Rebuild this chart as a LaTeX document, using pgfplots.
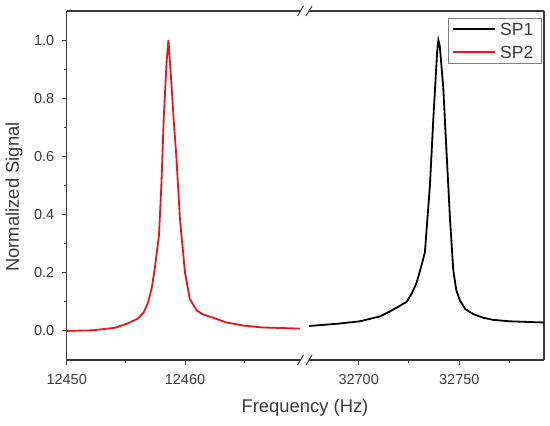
\documentclass[border=0pt]{standalone}
\usepackage{fontspec}
\setmainfont{Liberation Sans}
\usepackage{pgfplots}
\pgfplotsset{compat=1.18}
\definecolor{axgray}{HTML}{3A3A3A}
\definecolor{sptwo}{HTML}{E8141C}
\pgfplotsset{
  brk/.style={
    scale only axis,
    height=349pt,
    ymin=-0.1, ymax=1.1,
    tick align=outside,
    major tick length=5pt,
    minor tick length=3pt,
    every tick/.style={axgray, line width=1pt},
    axis line style={axgray, line width=1.2pt},
    tick label style={font=\fontsize{14.5}{16}\selectfont, text=axgray},
    /pgf/number format/assume math mode=true,
    /pgf/number format/1000 sep={},
    scaled x ticks=false,
    xticklabel style={yshift=-6pt},
    yticklabel style={xshift=-4pt},
    clip=false,
  }
}
\begin{document}
\begin{tikzpicture}[x=1pt,y=1pt]
\path[use as bounding box] (0,0) rectangle (550,426);
% left segment
\begin{axis}[brk,
  at={(66.7pt,66pt)}, anchor=south west,
  width=233.8pt,
  xmin=12450, xmax=12469.76,
  axis x line*=bottom, axis y line*=left,
  xtick={12450,12460}, minor xtick={12455,12465},
  xticklabel={\pgfmathprintnumber[fixed,precision=0,1000 sep={}]{\tick}},
  ytick={0,0.2,0.4,0.6,0.8,1.0},
  minor ytick={0.1,0.3,0.5,0.7,0.9},
  yticklabel style={/pgf/number format/.cd, fixed, fixed zerofill, precision=1},
]
\addplot[sptwo, line width=1.8pt] coordinates {
(12450.0,0.000) (12452.2,0.002) (12454.1,0.011) (12455.1,0.025)
(12456.0,0.042) (12456.5,0.063) (12456.9,0.100) (12457.2,0.150)
(12457.46,0.22) (12457.8,0.33) (12458.0,0.50) (12458.2,0.73)
(12458.45,0.93) (12458.6,1.000) (12458.85,0.85) (12459.05,0.72)
(12459.25,0.61) (12459.58,0.38) (12460.0,0.20) (12460.4,0.11)
(12461.0,0.070) (12461.5,0.057) (12462.4,0.045) (12463.5,0.029)
(12465.0,0.018) (12466.5,0.012) (12469.7,0.008)
};
\draw[axgray, line width=1.2pt] (rel axis cs:0,1) -- (rel axis cs:1,1);
\end{axis}
% right segment
\begin{axis}[brk,
  at={(309pt,66pt)}, anchor=south west,
  width=235pt,
  xmin=32675.3, xmax=32792.1,
  axis x line*=bottom, axis y line*=right,
  xtick={32700,32750}, minor xtick={32725,32775},
  xticklabel={\pgfmathprintnumber[fixed,precision=0,1000 sep={}]{\tick}},
  ytick=\empty,
]
\addplot[black, line width=1.8pt] coordinates {
(32675.4,0.017) (32690,0.025) (32700.6,0.033) (32710.6,0.050)
(32715.5,0.067) (32718.9,0.080) (32723.8,0.100) (32726.5,0.130)
(32728.8,0.166) (32731,0.22) (32732.9,0.27) (32735.4,0.50)
(32737.1,0.73) (32739.0,0.96) (32739.6,1.0) (32740.3,0.98)
(32742.0,0.84) (32743.7,0.61) (32745.4,0.383) (32747.0,0.21)
(32748.5,0.14) (32750.3,0.105) (32753,0.075) (32756.9,0.058)
(32762,0.045) (32766.9,0.038) (32775,0.033) (32792,0.029)
};
\draw[axgray, line width=1.2pt] (rel axis cs:0,1) -- (rel axis cs:1,1);
\end{axis}
% legend
\draw[gray, line width=0.8pt, fill=white] (448.5,362.5) rectangle (541.5,407.5);
\draw[black, line width=2pt] (453,397) -- (495,397);
\draw[sptwo, line width=2pt] (453,374) -- (495,374);
\node[anchor=west, inner sep=0pt, font=\fontsize{17.6}{20}\selectfont, text=axgray] at (500,397) {SP1};
\node[anchor=west, inner sep=0pt, font=\fontsize{17.6}{20}\selectfont, text=axgray] at (500,374) {SP2};
% break marks
\foreach \yy in {66,415} {
  \draw[axgray, line width=1pt] (297.5,\yy-5) -- (303.5,\yy+5);
  \draw[axgray, line width=1pt] (306,\yy-5) -- (312,\yy+5);
}
% axis labels
\node[rotate=90, font=\fontsize{18.4}{20}\selectfont, text=axgray] at (14,229) {Normalized Signal};
\node[font=\fontsize{18.4}{20}\selectfont, text=axgray] at (305,18) {Frequency (Hz)};
\end{tikzpicture}
\end{document}
